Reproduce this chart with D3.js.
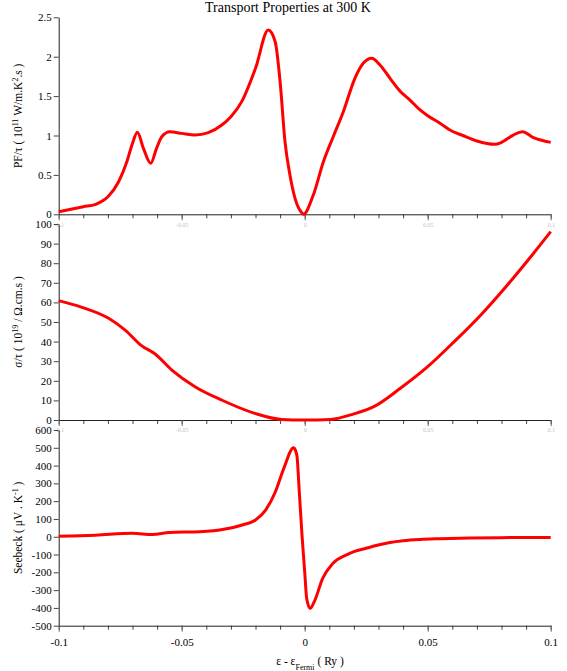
<!DOCTYPE html>
<html>
<head>
<meta charset="utf-8">
<script src="https://cdn.jsdelivr.net/npm/d3@7"></script>
<style>
  body { margin: 0; background: #fff; }
  svg text { font-family: "Liberation Serif", "Times New Roman", serif !important; }
</style>
</head>
<body>
<div id="chart"></div>
<script>
// Datos
const xTicks = [-0.1, -0.05, 0, 0.05, 0.1];
const xMinorTicks = d3.range(-10, 11).map(d => d / 100);

const energyPF = [-0.1, -0.09, -0.085, -0.08, -0.0757, -0.0723, -0.07, -0.068, -0.0656, -0.0626, -0.0602, -0.0581,
  -0.0548, -0.05, -0.0446, -0.0392, -0.0337, -0.03, -0.0256, -0.02, -0.0148, -0.012, -0.01, -0.008, -0.006, -0.0039,
  -0.0012, -0.0005, 0.0035, 0.0076, 0.0116, 0.0157, 0.0204, 0.0238, 0.0272, 0.0306, 0.0347, 0.0387, 0.0428, 0.0469,
  0.05, 0.055, 0.059, 0.0645, 0.07, 0.0774, 0.08, 0.0848, 0.0886, 0.093, 0.1];
const pfValues = [0.033, 0.096, 0.127, 0.223, 0.41, 0.667, 0.90, 1.04, 0.84, 0.647, 0.84, 0.985,
  1.048, 1.027, 1.006, 1.036, 1.133, 1.239, 1.43, 1.853, 2.339, 2.19, 1.683, 0.92, 0.50, 0.20,
  0.02, 0.0, 0.245, 0.667, 0.985, 1.302, 1.726, 1.916, 1.98, 1.895, 1.726, 1.565, 1.45, 1.324,
  1.251, 1.155, 1.07, 0.997, 0.93, 0.888, 0.913, 1.006, 1.048, 0.972, 0.913];
const pfTicks = [0, 0.5, 1, 1.5, 2, 2.5];

const energySigma = [-0.1, -0.0905, -0.0797, -0.073, -0.0662, -0.0608, -0.054, -0.0446, -0.0338, -0.0203, -0.0095,
  0, 0.0105, 0.02, 0.0281, 0.0389, 0.05, 0.0608, 0.0716, 0.0824, 0.0919, 0.1];
const sigmaValues = [60.9, 57.5, 51.9, 45.9, 37.8, 33.7, 25.5, 17.0, 10.2, 3.4, 0.3,
  0, 0.3, 3.1, 6.8, 16.2, 27.2, 40, 53.6, 68.9, 83.3, 96.1];
const sigmaTicks = d3.range(0, 101, 10);

const energySeebeck = [-0.1, -0.085, -0.07, -0.062, -0.055, -0.0426, -0.0323, -0.0254, -0.02, -0.0159, -0.0119,
  -0.0085, -0.0045, -0.0032, -0.0022, -0.0011, 0, 0.0008, 0.0022, 0.0039, 0.0073, 0.0114, 0.0168, 0.02, 0.0249,
  0.0303, 0.0347, 0.04, 0.0469, 0.055, 0.0672, 0.08, 0.1];
const seebeckValues = [3, 9, 19, 13, 24, 28, 43, 66, 94, 150, 253,
  384, 500, 459, 253, 10, -197, -346, -403, -365, -234, -150, -103, -84, -65,
  -45, -32, -22, -15, -11, -7, -5, -4];
const seebeckTicks = d3.range(-500, 601, 100);

const width = 567, height = 671;
const left = 58.7, right = 550.7;
const serif = "'Liberation Serif', 'Times New Roman', serif";

const svg = d3.select("#chart").append("svg")
    .attr("width", width)
    .attr("height", height);

const x = d3.scaleLinear().domain([-0.1, 0.1]).range([left, right]);

// Título
svg.append("text")
    .attr("x", 288)
    .attr("y", 12)
    .attr("text-anchor", "middle")
    .style("font-size", "14px")
    .text("Transport Properties at 300 K");

/**
 * Dibuja un panel con su eje y, su eje x y la curva roja.
 */
function drawPanel(xs, ys, yDomain, yTicks, top, bottom, faintLabels, labelParts) {
    const y = d3.scaleLinear().domain(yDomain).range([bottom, top]);
    const g = svg.append("g");

    // eje x: ticks menores y mayores hacia abajo
    g.append("g")
        .attr("transform", `translate(0,${bottom})`)
        .call(d3.axisBottom(x).tickValues(xMinorTicks).tickSize(4).tickFormat(""))
        .call(a => a.select(".domain").remove())
        .call(a => a.selectAll("line").attr("stroke", "#444"));

    const xAxis = g.append("g")
        .attr("transform", `translate(0,${bottom})`)
        .attr("font-family", serif)
        .call(d3.axisBottom(x).tickValues(xTicks).tickSizeInner(6).tickSizeOuter(0)
            .tickFormat(d => String(d)));
    xAxis.attr("font-family", serif);
    xAxis.select(".domain").attr("stroke", "#222");
    xAxis.selectAll("line").attr("stroke", "#666");
    if (faintLabels) {
        xAxis.selectAll("text")
            .attr("y", 8)
            .attr("fill", "#c4c4c4")
            .style("font-size", "6px");
    } else {
        xAxis.selectAll("text")
            .attr("y", 13)
            .attr("fill", "#000")
            .style("font-size", "11px");
    }

    // eje y
    const yAxis = g.append("g")
        .attr("transform", `translate(${left},0)`)
        .call(d3.axisLeft(y).tickValues(yTicks).tickSizeInner(5).tickSizeOuter(0).tickPadding(2)
            .tickFormat(d => String(d)));
    yAxis.attr("font-family", serif);
    yAxis.select(".domain").attr("stroke", "#222");
    yAxis.selectAll("line").attr("stroke", "#444");
    yAxis.selectAll("text")
        .attr("fill", "#000")
        .style("font-size", "11px");

    // curva
    const line = d3.line()
        .x((d, i) => x(xs[i]))
        .y(d => y(d))
        .curve(d3.curveMonotoneX);
    g.append("path")
        .datum(ys)
        .attr("fill", "none")
        .attr("stroke", "#ff0000")
        .attr("stroke-width", 3)
        .attr("stroke-linejoin", "round")
        .attr("d", line);

    // etiqueta del eje y con superíndices
    const label = g.append("text")
        .attr("transform", `translate(22,${(top + bottom) / 2}) rotate(-90)`)
        .attr("text-anchor", "middle")
        .style("font-size", "11.5px");
    labelParts.forEach(p => {
        const t = label.append("tspan").text(p.t);
        if (p.sup) t.attr("baseline-shift", "super").style("font-size", "8px");
    });
}

drawPanel(energyPF, pfValues, [0, 2.5], pfTicks, 17.3, 214.3, true, [
    { t: "PF/τ ( 10" }, { t: "11", sup: true }, { t: "  W/m.K" }, { t: "2", sup: true }, { t: ".s )" }
]);
drawPanel(energySigma, sigmaValues, [0, 100], sigmaTicks, 224, 420, true, [
    { t: "σ/τ  ( 10" }, { t: "19", sup: true }, { t: " / Ω.cm.s )" }
]);
drawPanel(energySeebeck, seebeckValues, [-500, 600], seebeckTicks, 430, 625.7, false, [
    { t: "Seebeck  ( μV . K" }, { t: "-1", sup: true }, { t: " )" }
]);

// Etiqueta del eje x
const xl = svg.append("text")
    .attr("x", 310)
    .attr("y", 665)
    .attr("text-anchor", "middle")
    .style("font-size", "11.5px");
xl.append("tspan").text("ε - ε");
xl.append("tspan").attr("baseline-shift", "sub").style("font-size", "8px").text("Fermi");
xl.append("tspan").text(" ( Ry )");
</script>
</body>
</html>
